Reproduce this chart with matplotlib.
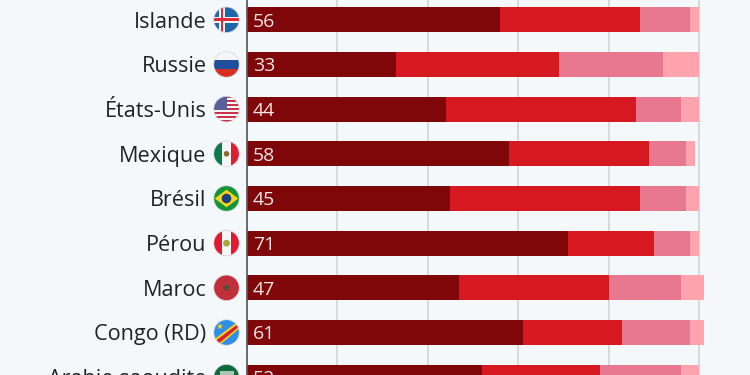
import numpy as np
import matplotlib
matplotlib.use('Agg')
import matplotlib.pyplot as plt
from matplotlib.patches import Circle, Rectangle, Polygon

plt.rcParams['font.family'] = ['Open Sans', 'DejaVu Sans']

countries = ['Islande', 'Russie', 'États-Unis', 'Mexique', 'Brésil', 'Pérou',
             'Maroc', 'Congo (RD)', 'Arabie saoudite']
seg1 = [56, 33, 44, 58, 45, 71, 47, 61, 52]
seg2 = [31, 36, 42, 31, 42, 19, 33, 22, 26]
seg3 = [11, 23, 10, 8, 10, 8, 16, 15, 18]
seg4 = [2, 8, 4, 2, 3, 2, 5, 3, 4]
ticks = [0, 20, 40, 60, 80, 100]

colors = ['#7f0609', '#d61921', '#e87890', '#ffa4ae']
bg = '#f4f8fb'

# pixel layout of the reference
x0, px_per_unit = 246.5, 4.527
y0, row_h = 19.8, 44.67

fig = plt.figure(figsize=(7.5, 3.75), dpi=100, facecolor=bg)
ax = fig.add_axes([0, 0, 1, 1], facecolor=bg)
ax.set_xlim(-x0 / px_per_unit, (750 - x0) / px_per_unit)
ax.set_ylim((375 - y0) / row_h, -y0 / row_h)
for s in ax.spines.values():
    s.set_visible(False)
ax.tick_params(left=False, bottom=False, labelleft=False, labelbottom=False)
ax.set_xticks(ticks)
ax.set_yticks([])
ax.grid(True, axis='x', color='#cfd4d9', linewidth=1.2, zorder=0)
ax.set_axisbelow(True)

y = np.arange(len(countries))
left = np.zeros(len(countries))
for vals, c in zip([seg1, seg2, seg3, seg4], colors):
    ax.barh(y, vals, left=left, height=25 / row_h, color=c, zorder=2)
    left += np.array(vals)
ax.axvline(0, color='#555a5e', linewidth=1.2, zorder=3)

for i, name in enumerate(countries):
    ax.annotate(name, (0, i), xytext=(-40, 0), textcoords='offset pixels',
                ha='right', va='center_baseline', fontsize=15.6, color='#1f2326',
                annotation_clip=False)
    ax.annotate(str(seg1[i]), (0, i), xytext=(6.5, 0), textcoords='offset pixels',
                ha='left', va='center_baseline', fontsize=14, color='#f4e6e6',
                zorder=4, annotation_clip=False)

# flags, drawn in pixel coordinates
fx = fig.add_axes([0, 0, 1, 1], facecolor='none')
fx.set_xlim(0, 750)
fx.set_ylim(375, 0)
fx.axis('off')
R = 12.8


def rect(clip, x, y, w, h, c):
    p = Rectangle((x, y), w, h, color=c, lw=0)
    fx.add_patch(p)
    p.set_clip_path(clip)


def poly(clip, pts, c):
    p = Polygon(pts, color=c, lw=0)
    fx.add_patch(p)
    p.set_clip_path(clip)


def star(cx, cy, r, c):
    a = np.pi / 2 + np.arange(5) * 4 * np.pi / 5
    fx.add_patch(Polygon(np.c_[cx + r * np.cos(a), cy - r * np.sin(a)], color=c, lw=0))


def flag(i, name):
    cx, cy = 226.5, y0 + i * row_h
    clip = Circle((cx, cy), R, transform=fx.transData)
    l, t, d = cx - R, cy - R, 2 * R
    if name == 'Islande':
        rect(clip, l, t, d, d, '#1f66a8')
        rect(clip, cx - 7.5, t, 6, d, '#f4f4f4')
        rect(clip, l, cy - 3, d, 6, '#f4f4f4')
        rect(clip, cx - 5.9, t, 2.8, d, '#dc2a3c')
        rect(clip, l, cy - 1.4, d, 2.8, '#dc2a3c')
    elif name == 'Russie':
        rect(clip, l, t, d, d / 3, '#f6f6f6')
        rect(clip, l, t + d / 3, d, d / 3, '#1d4f9c')
        rect(clip, l, t + 2 * d / 3, d, d / 3, '#d5301f')
    elif name == 'États-Unis':
        rect(clip, l, t, d, d, '#f6f6f6')
        for k in range(0, 7):
            rect(clip, l, t + k * d / 6.5, d, d / 13, '#c8324a')
        rect(clip, l, t, d * 0.52, d * 0.54, '#5a5f9a')
    elif name == 'Mexique':
        rect(clip, l, t, d / 3, d, '#0e7a4a')
        rect(clip, l + d / 3, t, d / 3, d, '#f6f6f6')
        rect(clip, l + 2 * d / 3, t, d / 3, d, '#dc1f32')
        fx.add_patch(Circle((cx, cy), 2.8, color='#8a6a30', lw=0))
    elif name == 'Brésil':
        rect(clip, l, t, d, d, '#12953a')
        poly(clip, [(l + 1, cy), (cx, t + 4), (l + d - 1, cy), (cx, t + d - 4)], '#f7d417')
        fx.add_patch(Circle((cx, cy), 4.8, color='#1c3f80', lw=0))
    elif name == 'Pérou':
        rect(clip, l, t, d, d, '#e01a30')
        rect(clip, l + d / 3, t, d / 3, d, '#f6f6f6')
        fx.add_patch(Circle((cx, cy), 3.4, color='#a8a838', lw=0))
    elif name == 'Maroc':
        rect(clip, l, t, d, d, '#c1303a')
        star(cx, cy, 4.2, '#2c5e3a')
    elif name == 'Congo (RD)':
        rect(clip, l, t, d, d, '#2f8fe8')
        poly(clip, [(l - 1, cy + 8), (l + d, cy - 12), (l + d, cy - 4), (l + 3, cy + 15)], '#f6d21a')
        poly(clip, [(l - 1, cy + 10.5), (l + d, cy - 9.5), (l + d, cy - 6), (l + 2, cy + 13.5)], '#d5202e')
        star(cx - 6.5, cy - 6, 3.4, '#f6d21a')
    elif name == 'Arabie saoudite':
        rect(clip, l, t, d, d, '#0f6b3a')
        rect(clip, cx - 7, cy - 6, 14, 6, '#a8c8b4')
    fx.add_patch(Circle((cx, cy), R, fill=False, ec='#d8dadd', lw=0.6))


for i, name in enumerate(countries):
    flag(i, name)

fig.savefig('out.png', dpi=100, facecolor=bg)
